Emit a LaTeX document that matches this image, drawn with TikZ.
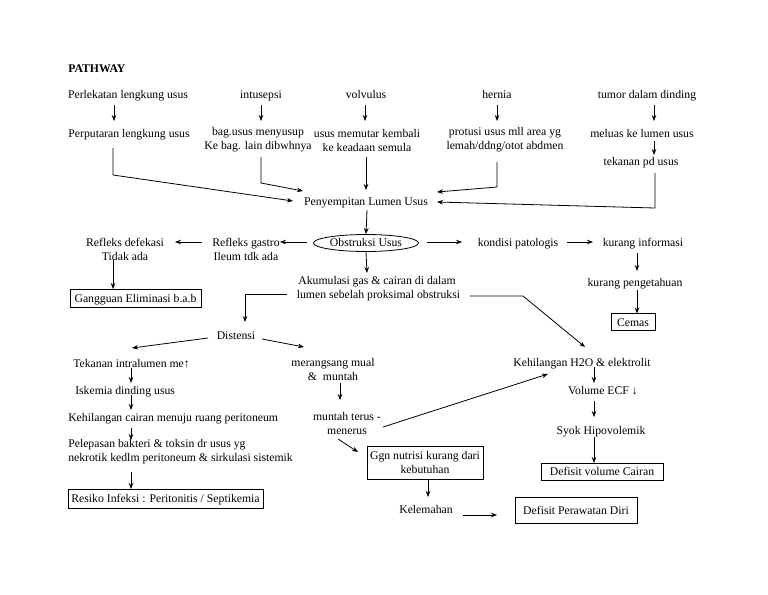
\documentclass[tikz,border=0pt]{standalone}
\usepackage{fontspec}
\setmainfont{Liberation Serif}
\usetikzlibrary{arrows.meta,calc,shapes.geometric}
\begin{document}
\begin{tikzpicture}[x=0.75pt,y=-0.75pt,
  txtm/.style={inner sep=0pt, align=center, font=\fontsize{8.8}{10.5}\selectfont},
  txt/.style={txtm, text height=7pt, text depth=1pt},
  box/.style={txt, draw, line width=0.6pt},
  boxm/.style={txtm, draw, line width=0.6pt},
  arr/.style={line width=0.6pt, -{Stealth[length=4.5pt,width=3.4pt]}}]
\fill[white] (0,0) rectangle (768,594);
\useasboundingbox (0,0) rectangle (768,594);

\node[txt,anchor=west,font=\fontsize{8.8}{10.5}\selectfont\bfseries] (title) at (68,68) {PATHWAY};

% row 1
\node[txt] (r1a) at (128,94) {Perlekatan lengkung usus};
\node[txt] (r1b) at (261,94) {intusepsi};
\node[txt] (r1c) at (366,94) {volvulus};
\node[txt] (r1d) at (497,94) {hernia};
\node[txt] (r1e) at (647,94) {tumor dalam dinding};

% row 2
\node[txt] (r2a) at (129,133) {Perputaran lengkung usus};
\node[txtm] (r2b) at (258,140) {bag.usus menyusup\\Ke bag. lain dibwhnya};
\node[txtm] (r2c) at (367,140) {usus memutar kembali\\ke keadaan semula};
\node[txtm] (r2d) at (505,140) {protusi usus mll area yg\\lemah/ddng/otot abdmen};
\node[txt] (r2e) at (642,133) {meluas ke lumen usus};
\node[txt] (r2f) at (641,161) {tekanan pd usus};

% centre
\node[txt] (pen) at (366,201) {Penyempitan Lumen Usus};
\node[draw,ellipse,line width=0.6pt,minimum width=78.75pt,minimum height=12.75pt,inner sep=0pt,
      font=\fontsize{8.8}{10.5}\selectfont] (obs) at (366,243) {\raisebox{1pt}{Obstruksi Usus}};
\node[txtm] (rg) at (246,249) {Refleks gastro\\Ileum tdk ada};
\node[txtm] (rd) at (125,249) {Refleks defekasi\\Tidak ada};
\node[box,minimum width=98.25pt,minimum height=13.5pt] (gel) at (135.5,298) {Gangguan Eliminasi b.a.b};
\node[txt] (kp) at (518,242) {kondisi patologis};
\node[txt] (ki) at (643,242) {kurang informasi};
\node[txt] (kpg) at (635,282) {kurang pengetahuan};
\node[box,minimum width=33pt,minimum height=12.75pt] (cem) at (633,322) {Cemas};
\node[txtm] (aku) at (377,289) {Akumulasi gas \& cairan di dalam\\\ lumen sebelah proksimal obstruksi};
\node[txt] (dis) at (236,335) {Distensi};

% left column
\node[txt,anchor=west] (tek) at (73,363) {Tekanan intralumen me↑};
\node[txt,anchor=west] (isk) at (75,390) {Iskemia dinding usus};
\node[txt,anchor=west] (kc) at (68,417) {Kehilangan cairan menuju ruang peritoneum};
\node[txtm,anchor=west,align=left] (pel) at (68,451.5) {Pelepasan bakteri \& toksin dr usus yg\\nekrotik kedlm peritoneum \& sirkulasi sistemik};
\node[box,minimum width=146.25pt,minimum height=14.25pt] (res) at (165.5,498.5) {Resiko Infeksi : Peritonitis / Septikemia};

% middle column
\node[txtm] (mer) at (333,369.5) {merangsang mual\\\&\ \ muntah};
\node[txtm] (mt) at (347,423) {muntah terus -\\menerus};
\node[boxm,minimum width=87pt,minimum height=24.75pt] (ggn) at (425,462.5) {Ggn nutrisi kurang dari\\kebutuhan};
\node[txt] (kel) at (426,509) {Kelemahan};
\node[box,minimum width=91.5pt,minimum height=19.5pt] (dpd) at (576,510) {Defisit Perawatan Diri};

% right column
\node[txt] (kh) at (582,362) {Kehilangan H2O \& elektrolit};
\node[txt] (vol) at (603,390) {Volume ECF ↓};
\node[txt] (syok) at (601,430) {Syok Hipovolemik};
\node[box,minimum width=91.5pt,minimum height=12.75pt] (dvc) at (602,471.5) {Defisit volume Cairan};

% connectors row1 -> row2
\draw[arr] ($(r1a)+(-14,11)$) -- ($(r2a)+(-15,-12)$);
\draw[arr] ($(r1b)+(0,11)$) -- ($(r2b)+(3,-19)$);
\draw[arr] ($(r1c)+(-1,11)$) -- ($(r2c)+(-2,-19)$);
\draw[arr] ($(r1d)+(0,11)$) -- ($(r2d)+(-8,-19)$);
\draw[arr] ($(r1e)+(7,11)$) -- ($(r2e)+(12,-12)$);
\draw[arr] ($(r2e)+(12,8)$) -- ($(r2f)+(13,-6)$);

% to Penyempitan
\draw[arr] ($(r2a)+(-16,15)$) -- ++(0,27) -- ($(pen)+(-73,0)$);
\draw[arr] ($(r2b)+(3,17)$) -- ++(0,26) -- ($(pen)+(-63,-10)$);
\draw[arr] ($(r2c)+(-1,17)$) -- ($(pen)+(0,-11)$);
\draw[arr] ($(r2d)+(-8,22)$) -- ++(0,25) -- ($(pen)+(71,-9)$);
\draw[arr] ($(r2f)+(14,12)$) -- ++(0,35) -- ($(pen)+(71,1)$);

% Penyempitan -> Obstruksi
\draw[arr] ($(pen)+(1,9)$) -- (obs.north);

% left branch
\draw[arr] ($(obs)+(-59,-1)$) -- ($(rg)+(34,-7)$);
\draw[arr] ($(rg)+(-44,-7)$) -- ($(rd)+(50,-7)$);
\draw[arr] ($(rd)+(-12,11)$) -- ($(gel)+(-22.5,-9)$);

% right branch
\draw[arr] ($(obs)+(61,-1)$) -- ($(kp)+(-56,0)$);
\draw[arr] ($(kp)+(49,0)$) -- ($(ki)+(-50,0)$);
\draw[arr] ($(ki)+(-6,11)$) -- ($(kpg)+(2,-11)$);
\draw[arr] ($(kpg)+(2,8)$) -- ($(cem)+(4,-8.5)$);

% Obstruksi -> Akumulasi
\draw[arr] (obs.south) -- ($(aku)+(-10,-16)$);
\draw[arr] ($(aku)+(-90,5)$) -- ++(-42,0) -- ($(dis)+(9,-13)$);
\draw[arr] ($(aku)+(93,7)$) -- ++(53,0) -- ($(kh)+(3,-15)$);

% Distensi
\draw[arr] ($(dis)+(-28,3)$) -- ($(tek.west)+(59,-15)$);
\draw[arr] ($(dis)+(26,4)$) -- ($(mer)+(-29,-22.5)$);

% left column arrows
\draw[arr] ($(tek.west)+(58,5)$) -- ($(isk.west)+(56,-7)$);
\draw[arr] ($(isk.west)+(56,5)$) -- ($(kc.west)+(63,-7)$);
\draw[arr] ($(kc.west)+(63,11)$) -- ($(pel.west)+(63,-11.5)$);
\draw[arr] ($(pel.west)+(63,20.5)$) -- ($(res)+(-34.5,-9.5)$);

% middle column arrows
\draw[arr] ($(mer)+(7,13.5)$) -- ($(mt)+(-7,-23)$);
\draw[arr] ($(mt)+(-9,16)$) -- ($(ggn)+(-67,-10.5)$);
\draw[arr] ($(mt)+(36,4)$) -- ($(kh)+(-34,12)$);
\draw[arr] ($(ggn)+(3,16.5)$) -- ($(kel)+(2,-12)$);
\draw[arr] ($(kel)+(37,6)$) -- ($(dpd)+(-79,5)$);

% right column arrows
\draw[arr] ($(kh)+(12,5)$) -- ($(vol)+(-9,-7)$);
\draw[arr] ($(vol)+(-9,11)$) -- ($(syok)+(-7,-13)$);
\draw[arr] ($(syok)+(-7,7)$) -- ($(dvc)+(-8,-8.5)$);
\end{tikzpicture}
\end{document}
